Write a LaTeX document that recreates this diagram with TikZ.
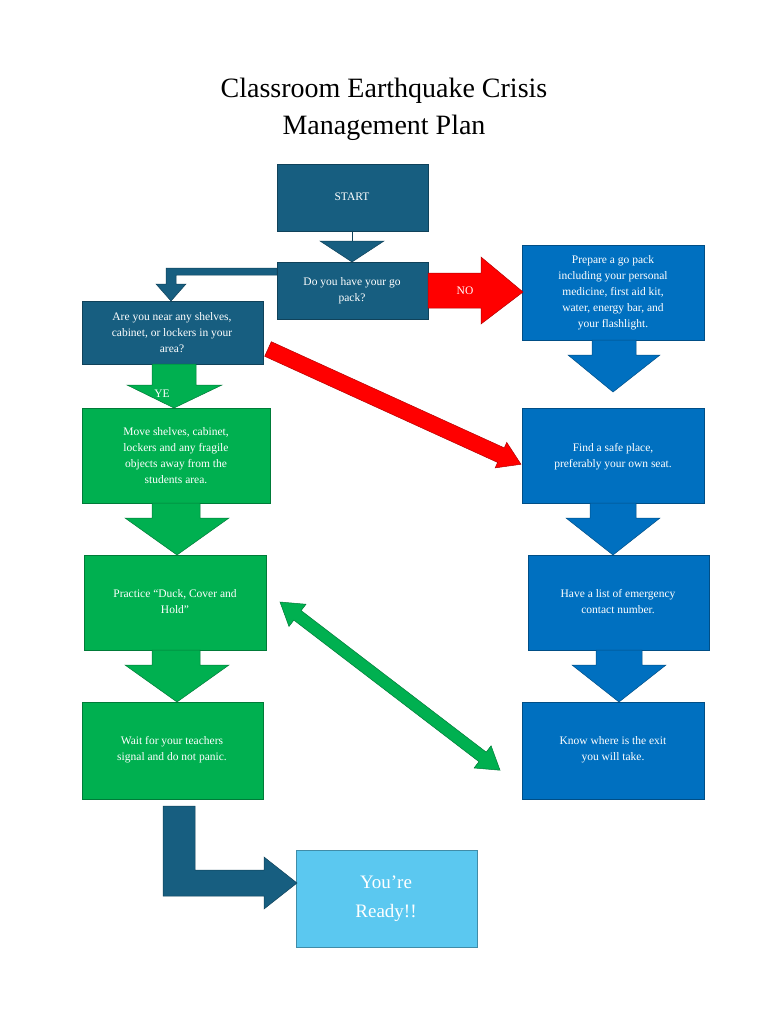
\documentclass[tikz,border=0pt]{standalone}
\usepackage{fontspec}
\setmainfont{Liberation Serif}
\begin{document}
\begin{tikzpicture}[x=1pt,y=-1pt,
  box/.style={draw=#1!70!black,fill=#1,line width=0.6pt},
  lbl/.style={text=white,font=\fontsize{11.5}{16}\selectfont,align=center,inner sep=0pt},
  arr/.style={draw=#1!70!black,fill=#1,line width=0.5pt}]
\definecolor{teal}{HTML}{175E80}
\definecolor{grn}{HTML}{00B050}
\definecolor{blu}{HTML}{0070C0}
\definecolor{lb}{HTML}{5BC8F0}
\definecolor{rd}{HTML}{FF0000}
\useasboundingbox (0,0) rectangle (768,1024);
\node[font=\fontsize{28}{37}\selectfont,align=center] (title) at (384,109) {Classroom Earthquake Crisis\\Management Plan};
% boxes
\draw[box=teal] (277,164) rectangle (428,231);
\node[lbl] (start) at (352,197) {START};
\draw[box=teal] (277,262) rectangle (428,319);
\node[lbl] (gopack) at (352,291) {Do you have your go\\pack?};
\draw[box=teal] (82,301) rectangle (263,364);
\node[lbl] (near) at (172,333) {Are you near any shelves,\\cabinet, or lockers in your\\area?};
\draw[box=blu] (522,245) rectangle (704,340);
\node[lbl] (prep) at (613,293) {Prepare a go pack\\including your personal\\medicine, first aid kit,\\water, energy bar, and\\your flashlight.};
\draw[box=grn] (82,408) rectangle (270,503);
\node[lbl] (move) at (176,456) {Move shelves, cabinet,\\lockers and any fragile\\objects away from the\\students area.};
\draw[box=blu] (522,408) rectangle (704,503);
\node[lbl] (safe) at (613,457) {Find a safe place,\\preferably your own seat.};
\draw[box=grn] (84,555) rectangle (266,650);
\node[lbl] (duck) at (175,602) {Practice ``Duck, Cover and\\Hold''};
\draw[box=blu] (528,555) rectangle (709,650);
\node[lbl] (list) at (618,602) {Have a list of emergency\\contact number.};
\draw[box=grn] (82,702) rectangle (263,799);
\node[lbl] (wait) at (172,750) {Wait for your teachers\\signal and do not panic.};
\draw[box=blu] (522,702) rectangle (704,799);
\node[lbl] (exit) at (613,750) {Know where is the exit\\you will take.};
\draw[box=lb] (296,850) rectangle (477,947);
\node[lbl,font=\fontsize{19}{29}\selectfont] (ready) at (386,899) {You’re\\Ready!!};
% START arrow
\draw[teal!70!black,line width=0.8pt] (352,231) -- (352,242);
\draw[arr=teal] (320,241) -- (384,241) -- (352,262) -- cycle;
% elbow to near
\draw[arr=teal] (277,268) -- (166,268) -- (166,284) -- (156,284) -- (171,301) -- (186,284) -- (176,284) -- (176,275) -- (277,275) -- cycle;
% NO arrow
\draw[arr=rd] (428,273) -- (481,273) -- (481,257) -- (523,292) -- (481,324) -- (481,308) -- (428,308) -- cycle;
\node[text=white,font=\fontsize{11.5}{12}\selectfont] (no) at (465,291) {NO};
% green down arrows
\draw[arr=grn] (152,364) -- (196,364) -- (196,385) -- (222,385) -- (174,408) -- (127,385) -- (152,385) -- cycle;
\node[text=white,font=\fontsize{11.5}{12}\selectfont] (ye) at (162,394) {YE};
\draw[arr=grn] (152,503) -- (200,503) -- (200,518) -- (229,518) -- (177,555) -- (125,518) -- (152,518) -- cycle;
\draw[arr=grn] (152,650) -- (200,650) -- (200,665) -- (229,665) -- (177,702) -- (125,665) -- (152,665) -- cycle;
% blue down arrows
\draw[arr=blu] (592,340) -- (636,340) -- (636,355) -- (660,355) -- (613,392) -- (568,355) -- (592,355) -- cycle;
\draw[arr=blu] (590,503) -- (636,503) -- (636,518) -- (660,518) -- (613,555) -- (566,518) -- (590,518) -- cycle;
\draw[arr=blu] (596,650) -- (642,650) -- (642,665) -- (666,665) -- (619,702) -- (572,665) -- (596,665) -- cycle;
% diagonal red arrow
\begin{scope}[shift={(268,349)},rotate=-24.5]
\draw[arr=rd] (0,-8) -- (256,-8) -- (256,-14) -- (278,0) -- (256,14) -- (256,8) -- (0,8) -- cycle;
\end{scope}
% double green arrow
\begin{scope}[shift={(280,602)},rotate=-37.4]
\draw[arr=grn] (0,0) -- (22,-14) -- (22,-6) -- (255,-6) -- (255,-14) -- (277,0) -- (255,14) -- (255,6) -- (22,6) -- (22,14) -- cycle;
\end{scope}
% bottom elbow
\draw[arr=teal] (163,806) -- (195,806) -- (195,870) -- (264,870) -- (264,857) -- (297,883) -- (264,909) -- (264,896) -- (163,896) -- cycle;
\end{tikzpicture}
\end{document}
